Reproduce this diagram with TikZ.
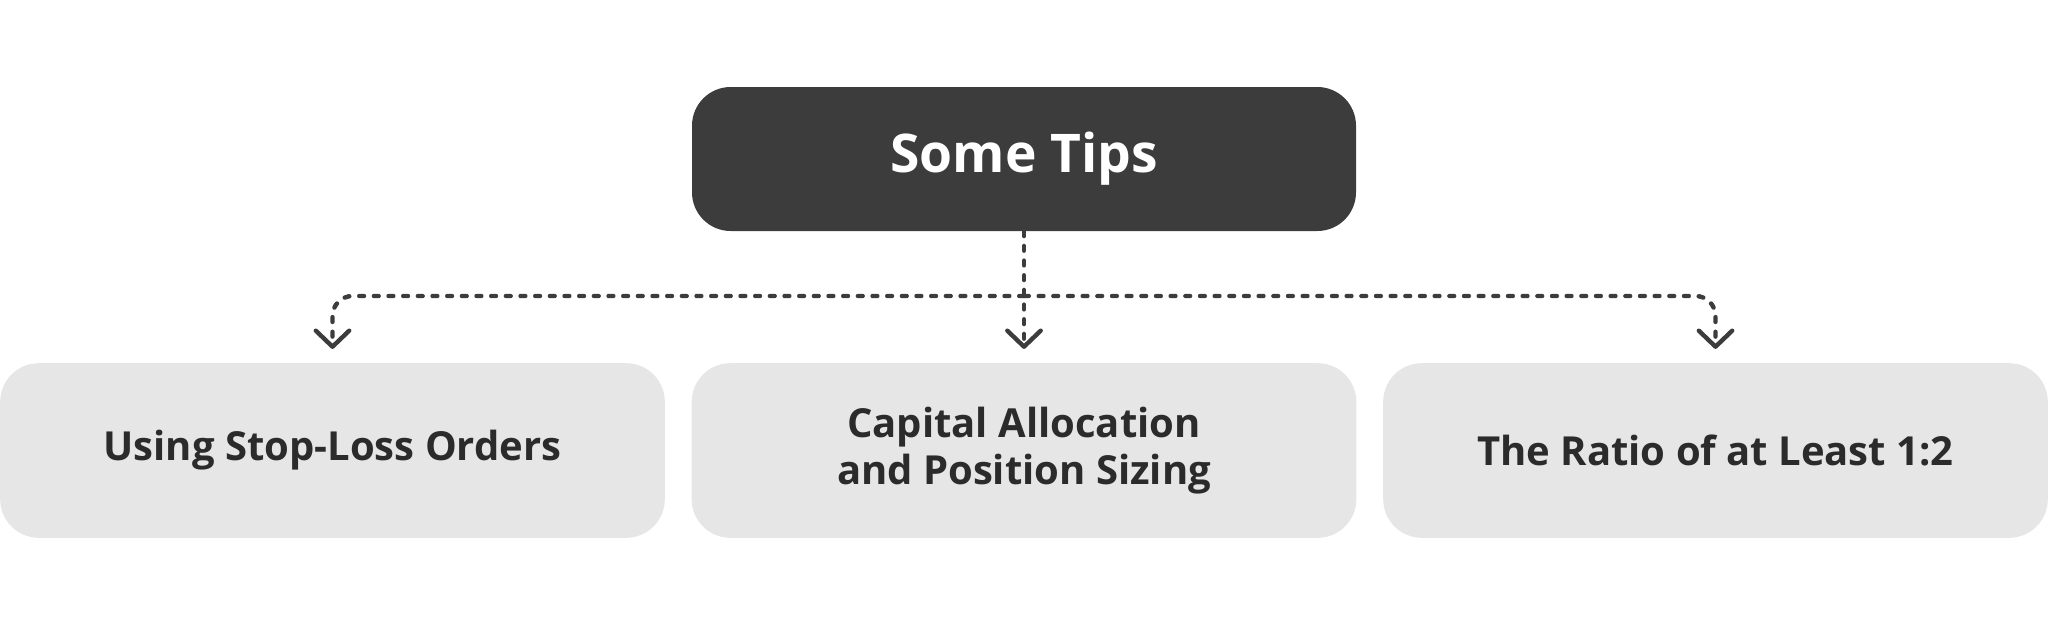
\documentclass[tikz,border=0pt]{standalone}
\usepackage{fontspec}
\setmainfont{Open Sans}
\usetikzlibrary{arrows.meta}
\definecolor{tipdark}{HTML}{3C3C3C}
\definecolor{tiplight}{HTML}{E6E6E6}
\definecolor{tiptext}{HTML}{2B2B2B}
\tikzset{
  headbox/.style={fill=tipdark, rounded corners=29pt, minimum width=498pt, minimum height=108pt, inner sep=0pt, text=white, font=\bfseries\fontsize{40}{46}\selectfont},
  tipbox/.style={fill=tiplight, rounded corners=29pt, minimum width=498.5pt, minimum height=131pt, inner sep=0pt, text=tiptext, align=center, font=\bfseries\fontsize{30}{35}\selectfont},
  link/.style={draw=tipdark, line width=3.3pt, line cap=round, dash pattern=on 3.6pt off 7.4pt, rounded corners=15pt, shorten >=10.5pt, -{Straight Barb[length=12pt,width=25pt,line cap=round,line join=round]}},
}
\begin{document}
\begin{tikzpicture}[x=0.75pt,y=0.75pt,yscale=-1,xscale=1]
\useasboundingbox (0,0) rectangle (2048,625);

%Shape: Rounded Rectangle [id:head]
\node[headbox] (tips) at (1024,159) {Some Tips};
%Shape: Rounded Rectangle [id:stoploss]
\node[tipbox] (stoploss) at (332.5,450.5) {Using Stop-Loss Orders};
%Shape: Rounded Rectangle [id:sizing]
\node[tipbox] (sizing) at (1024,450.5) {Capital Allocation\\and Position Sizing};
%Shape: Rounded Rectangle [id:ratio]
\node[tipbox] (ratio) at (1715.5,450.5) {The Ratio of at Least 1:2};

% Connector split point
\coordinate (split) at (1024,296);

%Straight Lines [id:down]
\draw[link] (tips.south) -- (sizing.north);
%Elbow Lines [id:left]
\draw[link] (split) -| (stoploss.north);
%Elbow Lines [id:right]
\draw[link] (split) -| (ratio.north);

\end{tikzpicture}
\end{document}
